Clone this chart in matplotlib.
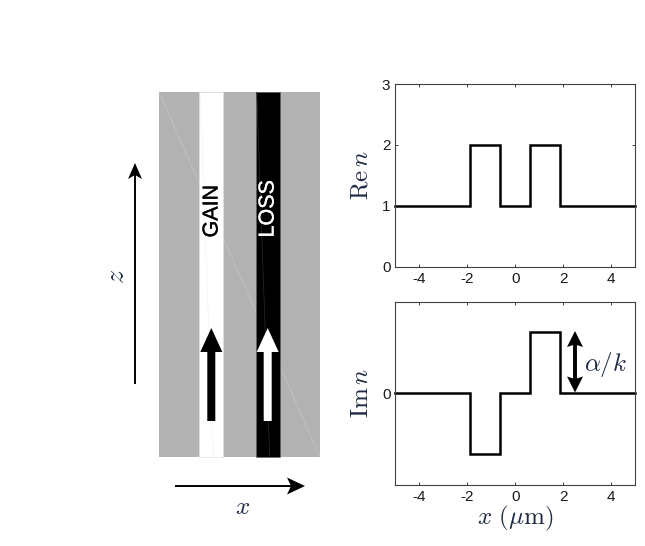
"""Waveguide schematic with gain/loss channels and the Re n / Im n profiles."""
import matplotlib
matplotlib.use("Agg")
import matplotlib.pyplot as plt
from matplotlib.patches import FancyArrow, Polygon, Rectangle
import matplotlib.patheffects as pe

plt.rcParams["font.family"] = ["Liberation Sans", "DejaVu Sans"]
plt.rcParams["mathtext.fontset"] = "cm"
plt.rcParams["axes.unicode_minus"] = False

W, H = 645, 546

# refractive index profile
x_edges = [-5, -1.875, -0.625, 0.625, 1.875, 5]
re_n = [1, 2, 1, 2, 1, 1]
im_n = [0, -1, 0, 1, 0, 0]
x_ticks = [-4, -2, 0, 2, 4]
re_ticks = [0, 1, 2, 3]
im_ticks = [0]

# schematic, in pixels of the figure
slab = (159, 92, 320, 457)
gain_strip = (199.3, 223.3)
loss_strip = (255.7, 279.7)
GRAY = "#b2b2b2"
LABEL = "#1f2a44"
AXC = "#404040"


def axes_px(fig, left, top, right, bottom):
    return fig.add_axes([left / W, 1 - bottom / H, (right - left) / W, (bottom - top) / H])


def style(ax):
    ax.set_xlim(-5, 5)
    ax.set_xticks(x_ticks)
    ax.tick_params(direction="in", top=True, right=True, length=2.5, width=0.7,
                   labelsize=11, pad=3.5, color=AXC, labelcolor="#1a1a1a")
    for s in ax.spines.values():
        s.set_linewidth(0.8)
        s.set_color(AXC)


def stealth(ax, tip, back, width, notch=4):
    # notched arrow head, tip and back are (x, y) on the arrow axis
    dx, dy = back[0] - tip[0], back[1] - tip[1]
    n = (dx ** 2 + dy ** 2) ** 0.5
    ux, uy = dx / n, dy / n
    px, py = -uy * width / 2, ux * width / 2
    pts = [tip, (back[0] + px, back[1] + py),
           (back[0] - ux * notch, back[1] - uy * notch), (back[0] - px, back[1] - py)]
    ax.add_patch(Polygon(pts, closed=True, fc="black", ec="none", zorder=6))


fig = plt.figure(figsize=(W / 100, H / 100), dpi=100)

# left schematic
bg = fig.add_axes([0, 0, 1, 1])
bg.set_xlim(0, W)
bg.set_ylim(H, 0)
bg.axis("off")
x0, y0, x1, y1 = slab
bg.add_patch(Rectangle((x0, y0), x1 - x0, y1 - y0, fc=GRAY, ec="none", zorder=1))
# faint rendering seams from the original PDF
bg.plot([x0, x1], [y0, y1], color="#c6c6c6", lw=0.5, zorder=1.5)
bg.add_patch(Rectangle((gain_strip[0], y0), gain_strip[1] - gain_strip[0], y1 - y0, fc="white", ec="#e2e2e2", lw=0.5, zorder=2))
bg.add_patch(Rectangle((loss_strip[0], y0), loss_strip[1] - loss_strip[0], y1 - y0, fc="black", ec="#666666", lw=0.4, zorder=2))
bg.plot([gain_strip[0] + 1, gain_strip[0] + 14], [y0, y1], color="#f0f0f0", lw=0.4, zorder=2.5)
bg.plot([loss_strip[0] + 1, loss_strip[0] + 14], [y0, y1], color="#333333", lw=0.4, zorder=2.5)

for xc, col in [(211.3, "black"), (267.7, "white")]:
    bg.add_patch(FancyArrow(xc, 421, 0, -93, width=8, head_width=22, head_length=24,
                            length_includes_head=True, fc=col, ec="none", zorder=3))

bg.text(212, 237.5, "GAIN", rotation=90, ha="center", va="bottom", fontsize=15.5, color="black", zorder=4,
        path_effects=[pe.withStroke(linewidth=0.2, foreground="black")])
bg.text(268, 237.5, "LOSS", rotation=90, ha="center", va="bottom", fontsize=15.5, color="white", zorder=4,
        path_effects=[pe.withStroke(linewidth=0.2, foreground="white")])

bg.plot([135, 135], [384, 172], color="black", lw=1.4, solid_capstyle="butt")
stealth(bg, (135, 163), (135, 179), 14)
bg.plot([175, 292], [486, 486], color="black", lw=1.4, solid_capstyle="butt")
stealth(bg, (305, 486), (287, 486), 17)
bg.text(117, 277, r"$z$", rotation=90, ha="center", va="center", fontsize=20, color=LABEL)
bg.text(243, 507, r"$x$", ha="center", va="center", fontsize=18, color=LABEL)

# Re n
ax1 = axes_px(fig, 395.3, 84, 635.3, 266.7)
ax1.plot(x_edges, re_n, drawstyle="steps-post", color="black", lw=1.8, clip_on=False, solid_joinstyle="miter")
ax1.set_ylim(0, 3)
ax1.set_yticks(re_ticks)
style(ax1)
ax1.set_ylabel(r"$\mathrm{Re}\,n$", fontsize=18, color=LABEL, labelpad=6.5)

# Im n
ax2 = axes_px(fig, 395.3, 301.7, 635.3, 485)
ax2.plot(x_edges, im_n, drawstyle="steps-post", color="black", lw=1.8, clip_on=False, solid_joinstyle="miter")
ax2.set_ylim(-1.5, 1.5)
ax2.set_yticks(im_ticks)
style(ax2)
ax2.set_ylabel(r"$\mathrm{Im}\,n$", fontsize=18, color=LABEL, labelpad=6.5)
ax2.set_xlabel(r"$x\ (\mu\mathrm{m})$", fontsize=18, color=LABEL, labelpad=0)
ax2.text(3.77, 0.48, r"$\alpha/k$", ha="center", va="center", fontsize=18, color=LABEL)

# double arrow for alpha/k, on top of the Im n axes
fg = fig.add_axes([0, 0, 1, 1])
fg.set_xlim(0, W)
fg.set_ylim(H, 0)
fg.axis("off")
fg.plot([575, 575], [340, 384], color="black", lw=2.8, solid_capstyle="butt")
stealth(fg, (575, 331), (575, 347), 16, notch=2.5)
stealth(fg, (575, 392.5), (575, 376.5), 16, notch=2.5)

fig.savefig("out.png", dpi=100)
